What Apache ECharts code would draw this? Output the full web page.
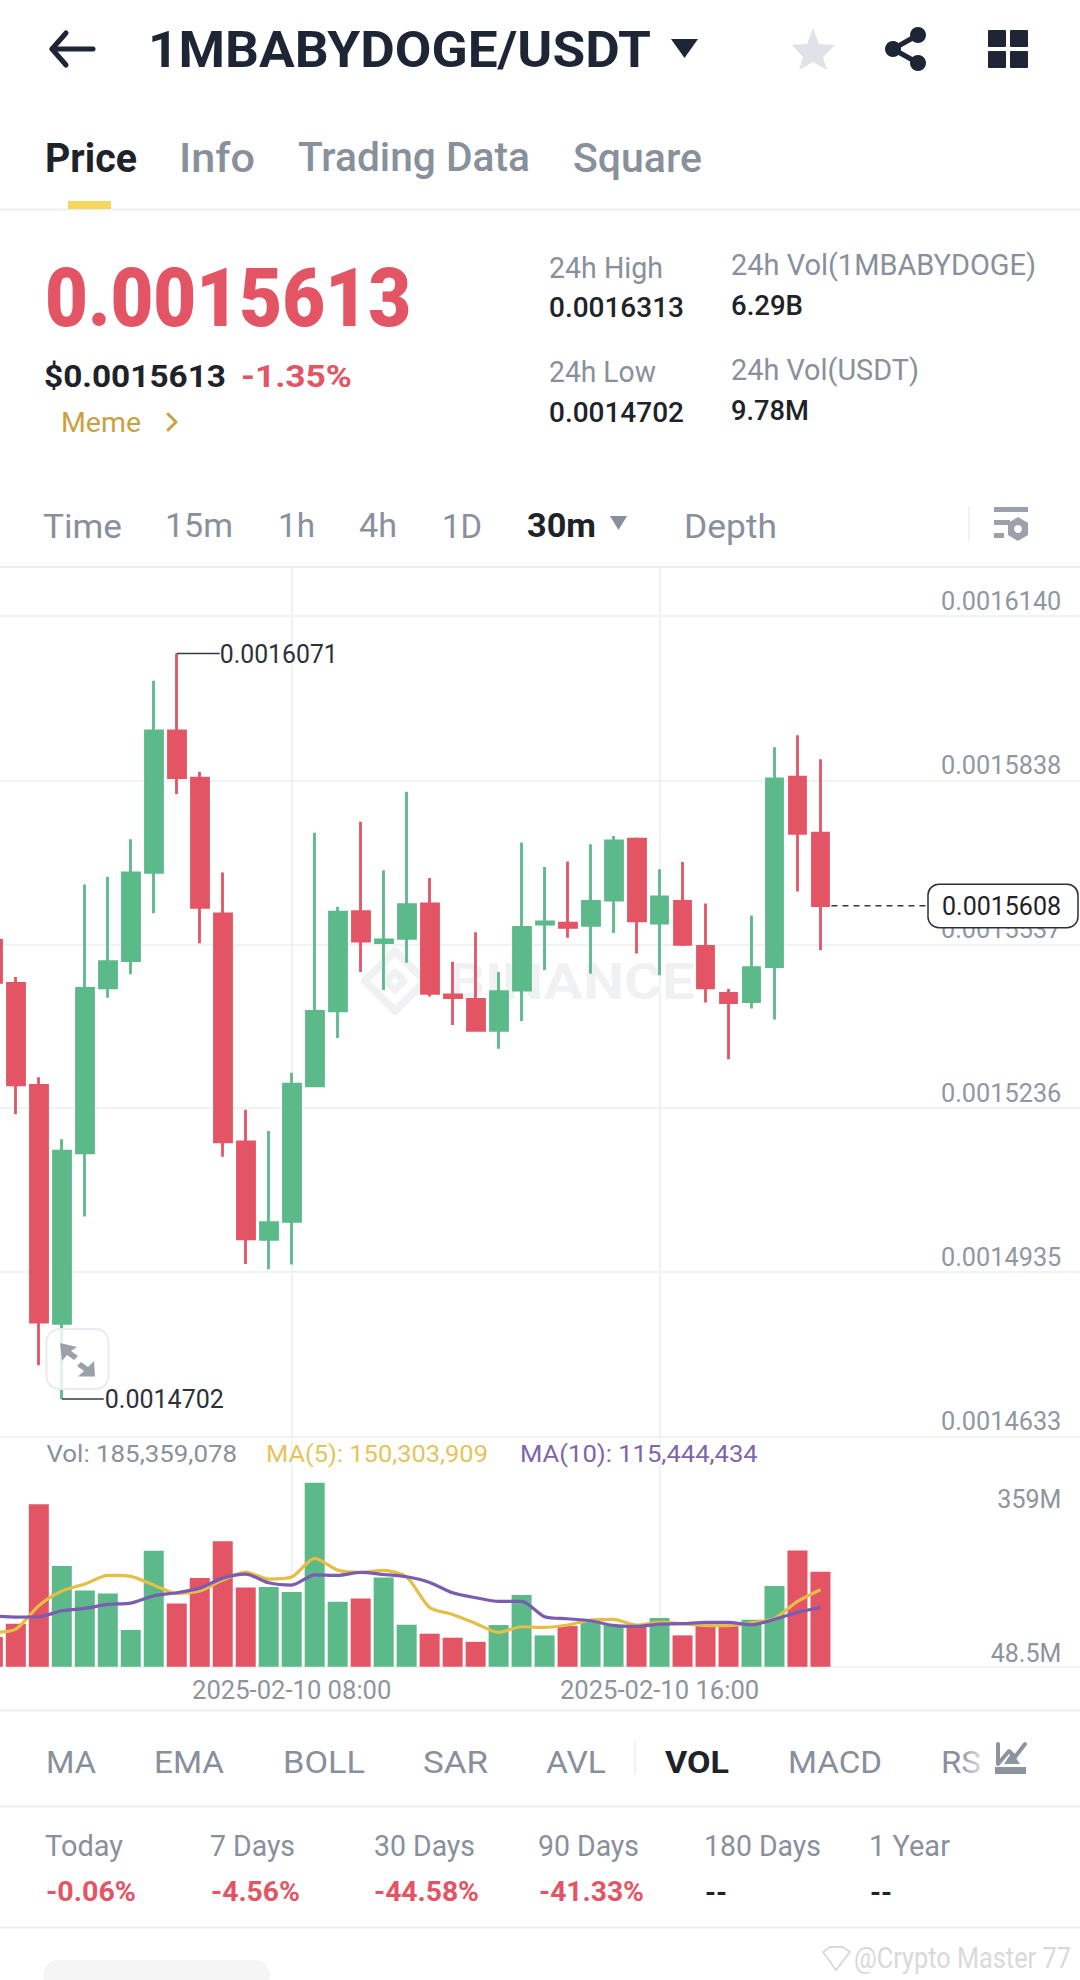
<!DOCTYPE html>
<html>
<head>
<meta charset="utf-8">
<style>html,body{margin:0;padding:0;background:#fff;overflow:hidden}#c{width:1080px;height:1980px}</style>
<script src="https://cdn.jsdelivr.net/npm/echarts@6/dist/echarts.min.js"></script>
</head>
<body>
<div id="c"></div>
<script>
const categories = ['2025-02-10 01:30','2025-02-10 02:00','2025-02-10 02:30','2025-02-10 03:00','2025-02-10 03:30','2025-02-10 04:00','2025-02-10 04:30','2025-02-10 05:00','2025-02-10 05:30','2025-02-10 06:00','2025-02-10 06:30','2025-02-10 07:00','2025-02-10 07:30','2025-02-10 08:00','2025-02-10 08:30','2025-02-10 09:00','2025-02-10 09:30','2025-02-10 10:00','2025-02-10 10:30','2025-02-10 11:00','2025-02-10 11:30','2025-02-10 12:00','2025-02-10 12:30','2025-02-10 13:00','2025-02-10 13:30','2025-02-10 14:00','2025-02-10 14:30','2025-02-10 15:00','2025-02-10 15:30','2025-02-10 16:00','2025-02-10 16:30','2025-02-10 17:00','2025-02-10 17:30','2025-02-10 18:00','2025-02-10 18:30','2025-02-10 19:00','2025-02-10 19:30','2025-02-10 20:00','2025-02-10 20:30','2025-02-10 21:00','2025-02-10 21:30','2025-02-10 22:00','2025-02-10 22:30','2025-02-10 23:00','2025-02-10 23:30','2025-02-11 00:00','2025-02-11 00:30','2025-02-11 01:00','2025-02-11 01:30'];
const opens  = [0.0015544,0.0015465,0.0015278,0.0014841,0.0015154,0.0015457,0.0015507,0.0015669,0.0015929,0.0015842,0.0015593,0.0015174,0.0014995,0.0015028,0.0015277,0.0015415,0.0015597,0.0015540,0.0015548,0.0015611,0.0015444,0.0015436,0.0015379,0.0015453,0.0015574,0.0015576,0.0015572,0.0015618,0.0015730,0.0015576,0.0015616,0.0015533,0.0015447,0.0015432,0.0015496,0.0015844,0.0015741];
const closes = [0.0015467,0.0015279,0.0014843,0.0015157,0.0015456,0.0015505,0.0015668,0.0015929,0.0015843,0.0015605,0.0015174,0.0014996,0.0015026,0.0015280,0.0015414,0.0015596,0.0015543,0.0015545,0.0015610,0.0015447,0.0015439,0.0015379,0.0015450,0.0015568,0.0015578,0.0015568,0.0015616,0.0015727,0.0015580,0.0015624,0.0015537,0.0015457,0.0015430,0.0015494,0.0015841,0.0015741,0.0015608];
const lows   = [0.0015467,0.0015225,0.0014764,0.0014702,0.0015037,0.0015439,0.0015482,0.0015594,0.0015813,0.0015539,0.0015147,0.0014950,0.0014940,0.0014949,0.0015277,0.0015365,0.0015486,0.0015453,0.0015503,0.0015441,0.0015389,0.0015379,0.0015345,0.0015396,0.0015490,0.0015549,0.0015483,0.0015558,0.0015520,0.0015480,0.0015534,0.0015430,0.0015326,0.0015419,0.0015399,0.0015634,0.0015526];
const highs  = [0.0015544,0.0015477,0.0015293,0.0015179,0.0015647,0.0015661,0.0015730,0.0016021,0.0016071,0.0015854,0.0015669,0.0015233,0.0015194,0.0015301,0.0015742,0.0015606,0.0015762,0.0015673,0.0015817,0.0015659,0.0015505,0.0015559,0.0015486,0.0015724,0.0015679,0.0015689,0.0015721,0.0015736,0.0015733,0.0015675,0.0015688,0.0015612,0.0015455,0.0015590,0.0015899,0.0015921,0.0015877];
const volumes = [57.9,83.9,317.2,196.3,148.9,143,71.5,226.2,123.5,172.9,245,154.7,155.4,145.6,359,126.8,133.3,174.2,81.9,64.4,56.6,48.5,81.3,139.8,61.1,79.3,87.8,81,79.3,94.9,61.1,81.3,80,91.7,157.3,226.9,185.36];
const ma5Values = [67,73.5,119,147.6,161.2,178.1,176.2,159.3,143,147.6,169,184.6,171,174.9,211.3,188.5,184,187.9,174.9,115.7,102,84.5,67,78,76.7,81.3,91,92.3,81.3,86.5,83.9,80.6,80,85.8,94.3,127.4,150.3];
const ma10Values = [98.8,96.9,97.5,109.2,113.8,121.6,124.2,138.5,144.3,153.4,172.9,180.7,163.8,159.3,179.4,178.1,184,180,175.5,164.5,144.3,134.6,127.4,127.4,97.5,93.6,89.7,80.6,78.7,83.2,83.9,86.5,86.5,81.9,92.3,106,115.44];
const priceTicks = [0.0014633,0.0014935,0.0015236,0.0015537,0.0015838,0.0016140];
const volumeTicks = [48.5,359];
const timeTicks = ['2025-02-10 08:00','2025-02-10 16:00'];
const lastPrice = 0.0015608;

const GREEN='#5cb98a', RED='#e35464', GRID='#eceef0', AXIS='#8d949e', DARK='#1e2329', NAVY='#1e2635', GREY='#88909c';
const YEL='#e6c35c', PUR='#7e66ab';
const FONT='Roboto';

const chart = echarts.init(document.getElementById('c'), null, {renderer:'svg', width:1080, height:1980});

const band=22.99, X0=-7.17, gridW=band*48;
chart.setOption({
  animation:false,
  backgroundColor:'#fff',
  grid:[
    {left:X0, top:567, width:gridW, height:869.5, outerBoundsMode:'none'},
    {left:X0, top:1437, width:gridW, height:229.7, outerBoundsMode:'none'}
  ],
  xAxis:[
    {type:'category',gridIndex:0,data:categories,boundaryGap:false,
     axisLine:{show:false},axisTick:{show:false},axisLabel:{show:false},
     splitLine:{show:true,interval:(i,v)=>timeTicks.includes(v),lineStyle:{color:GRID,width:1.5}}},
    {type:'category',gridIndex:1,data:categories,boundaryGap:false,
     axisLine:{show:true,lineStyle:{color:GRID,width:1.5}},axisTick:{show:false},
     axisLabel:{show:true,interval:(i,v)=>timeTicks.includes(v),margin:10,color:AXIS,fontFamily:FONT,fontSize:25.6,hideOverlap:false},
     splitLine:{show:true,interval:(i,v)=>timeTicks.includes(v),lineStyle:{color:GRID,width:1.5}}}
  ],
  yAxis:[
    {type:'value',gridIndex:0,position:'right',min:0.0014633,max:0.001623,
     axisLine:{show:false},axisTick:{show:false,customValues:priceTicks},
     axisLabel:{inside:true,margin:35,customValues:priceTicks,verticalAlign:'bottom',lineHeight:30,
       formatter:v=>v.toFixed(7),color:'#9097a1',fontFamily:FONT,fontSize:25.3,showMinLabel:true,showMaxLabel:true},
     splitLine:{show:true,lineStyle:{color:GRID,width:1.5}}},
    {type:'value',gridIndex:1,position:'right',min:0,max:448.3,
     axisLine:{show:false},axisTick:{show:false,customValues:volumeTicks},
     axisLabel:{inside:true,margin:35,customValues:volumeTicks,verticalAlign:'top',
       formatter:v=>v===359?'{a|359M}':'{b|48.5M}',
       rich:{a:{padding:[4,0,0,0],color:AXIS,fontFamily:FONT,fontSize:25},b:{padding:[-1,0,0,0],color:AXIS,fontFamily:FONT,fontSize:25}},
       color:AXIS,fontFamily:FONT,fontSize:25},
     splitLine:{show:false}}
  ],
  series:[
    {type:'candlestick',xAxisIndex:0,yAxisIndex:0,barWidth:17.4,z:3,
     data:opens.map((o,i)=>[o,closes[i],lows[i],highs[i]]),
     itemStyle:{color:GREEN,color0:RED,borderColor:GREEN,borderColor0:RED,borderWidth:2.8}},
    {type:'bar',xAxisIndex:1,yAxisIndex:1,barWidth:20,z:2,
     data:volumes.map((v,i)=>({value:v,itemStyle:{color:closes[i]>=opens[i]?GREEN:RED}}))},
    {type:'line',xAxisIndex:1,yAxisIndex:1,data:ma5Values,showSymbol:false,smooth:0.25,z:4,lineStyle:{color:'#e6bd45',width:3.2}},
    {type:'line',xAxisIndex:1,yAxisIndex:1,data:ma10Values,showSymbol:false,smooth:0.25,z:5,lineStyle:{color:'#7a5cb0',width:3.2}}
  ]
});

// text helper: fits a real text element into the reference's measured width
const mctx=document.createElement('canvas').getContext('2d');
function T(text,x,y,size,color,weight,w,extra){
  const font=(weight||'400')+' '+size+'px '+FONT;
  mctx.font=font;
  const m=mctx.measureText(text).width;
  const sx=w?w/m:1;
  return Object.assign({type:'text',x:x,y:y,scaleX:sx,z:50,silent:true,style:{text:text,font:font,fill:color,verticalAlign:'middle',align:'left'}},extra||{});
}
function Ln(x1,y1,x2,y2,c,w,extra){return Object.assign({type:'line',z:40,silent:true,shape:{x1,y1,x2,y2},style:{stroke:c,lineWidth:w||1.5}},extra||{});}
function Pl(pts,c,w,z){return {type:'polyline',z:z||50,silent:true,shape:{points:pts},style:{stroke:c,lineWidth:w,fill:null,lineCap:'round',lineJoin:'round'}};}
function Pg(pts,c,z){return {type:'polygon',z:z||50,silent:true,shape:{points:pts},style:{fill:c}};}
function R(x,y,w,h,c,r,z,extra){return {type:'rect',z:z||50,silent:true,shape:{x,y,width:w,height:h,r:r||0},style:Object.assign({fill:c},extra||{})};}
function C(cx,cy,r,c){return {type:'circle',z:50,silent:true,shape:{cx,cy,r},style:{fill:c}};}

const g=[];
// header
g.push(Pl([[66,33],[52,49],[66,65]],NAVY,5), Pl([[52,49],[93,49]],NAVY,5));
g.push(T('1MBABYDOGE/USDT',148,50,50,NAVY,'700',503));
g.push(Pg([[671,39],[698,39],[684.5,58]],NAVY));
g.push(Pg([[813,28],[819,44],[835,45],[823,57],[827,70],[813,62],[799,70],[803,57],[792,45],[807,44]],'#dfe2e6'));
g.push(Pl([[918,35],[893,49],[918,63]],NAVY,5), C(918,35,8,NAVY),C(893,49,8,NAVY),C(918,63,8,NAVY));
g.push(R(988,30,18,17,NAVY,1),R(1010,30,18,17,NAVY,1),R(988,51,18,17,NAVY,1),R(1010,51,18,17,NAVY,1));
// tabs
g.push(T('Price',45,158,40,DARK,'700',92),T('Info',179,158,40,GREY,'500',76),T('Trading Data',298,158,40,GREY,'500',232),T('Square',573,158,40,GREY,'500',129));
g.push(R(68,201,43,8,'#f3d75f'),Ln(0,209.5,1080,209.5,'#eeeff1',2));
// price
g.push(T('0.0015613',45,298,82,RED,'900',366));
g.push(T('$0.0015613',44,376,32,DARK,'700',182),T('-1.35%',241,376,32,RED,'700',111));
g.push(T('Meme',61,423,28,'#c9a13f','400',80),Pl([[168,414],[176,422],[168,430]],'#c9a13f',3));
g.push(T('24h High',549,268,29,GREY,'400',114),T('0.0016313',549,308,27,DARK,'500',135));
g.push(T('24h Vol(1MBABYDOGE)',731,265,29,GREY,'400',305),T('6.29B',731,306,27,DARK,'500',72));
g.push(T('24h Low',549,372,29,GREY,'400',107),T('0.0014702',549,413,27,DARK,'500',135));
g.push(T('24h Vol(USDT)',731,370,29,GREY,'400',188),T('9.78M',731,411,27,DARK,'500',78));
// interval row
[['Time',43,79],['15m',165,68],['1h',278,37],['4h',359,38],['1D',442,40],['Depth',684,93]].forEach(a=>g.push(T(a[0],a[1],526,33,GREY,'400',a[2])));
g.push(T('30m',527,526,33,DARK,'700',69),Pg([[610,516],[627,516],[618.5,530]],GREY));
g.push(Ln(969,506,969,541,'#eceef0',1.5));
g.push(R(994,507,34,5,'#9aa1ab'),R(994,520,16,5,'#9aa1ab'),R(994,533,10,5,'#9aa1ab'));
g.push(Pg([[1018,517],[1028,523],[1028,535],[1018,541],[1008,535],[1008,523]],'#9aa1ab'),C(1018,529,4,'#fff'));
g.push(Ln(0,567,1080,567,'#eeeff1',2));
// faint exchange watermark behind the candles
const WM='#f0f1f2';
g.push(Pl([[395,951],[425,981],[395,1011],[365,981],[395,951]],WM,8,1),Pl([[395,972],[404,981],[395,990],[386,981],[395,972]],WM,7,1));
g.push(T('BINANCE',448,982,50,WM,'700',247,{z:1}));
// volume legend
g.push(T('Vol: 185,359,078',46.5,1454,24,GREY,'400',190.5),T('MA(5): 150,303,909',266,1454,24,YEL,'400',222),T('MA(10): 115,444,434',520,1454,24,PUR,'400',238));
// separators & indicator row
g.push(Ln(0,1710.5,1080,1710.5,'#eeeff1',2));
[['MA',46,50],['EMA',154,70],['BOLL',283,82],['SAR',423,65],['AVL',546,60],['MACD',788,94],['RS',941,40]].forEach(a=>g.push(T(a[0],a[1],1762,32,GREY,'400',a[2])));
g.push(T('VOL',665,1762,32,DARK,'700',64),Ln(635,1740,635,1775,'#eceef0',1.5));
g.push({type:'rect',z:51,silent:true,shape:{x:958,y:1740,width:34,height:40},style:{fill:new echarts.graphic.LinearGradient(0,0,1,0,[{offset:0,color:'rgba(255,255,255,0)'},{offset:1,color:'#fff'}])}});
g.push(Pl([[998,1744],[998,1764],[1009,1751],[1015,1757],[1025,1744]],'#8d949e',4),R(995,1767,31,7,'#8d949e'),Pg([[1004,1764],[1012,1752],[1020,1764]],'#8d949e'));
g.push(Ln(0,1806.5,1080,1806.5,'#eeeff1',2));
// period returns
[['Today',45,78],['7 Days',210,85],['30 Days',374,101],['90 Days',538,101],['180 Days',704,117],['1 Year',869,81]].forEach(a=>g.push(T(a[0],a[1],1846,29,GREY,'400',a[2])));
[['-0.06%',46,90],['-4.56%',211,89],['-44.58%',374,105],['-41.33%',539,105]].forEach(a=>g.push(T(a[0],a[1],1892,28,RED,'700',a[2])));
g.push(T('--',705,1892,28,DARK,'700',22),T('--',870,1892,28,DARK,'700',22));
g.push(Ln(0,1927.5,1080,1927.5,'#eeeff1',2));
g.push(R(43,1960,227,30,'#f5f5f5',16));
g.push(T('@Crypto Master 77',854,1958,30,'#d9d9d9','400',217));
g.push(Pl([[823,1952],[836,1970],[850,1952],[843,1947],[830,1947],[823,1952]],'#d9d9d9',2));

// expand button
g.push(R(46.5,1329,62,60,'rgba(255,255,255,0.82)',13,30,{stroke:'#e9ebee',lineWidth:2}));
g.push(Pg([[60,1343],[77,1347],[71,1351],[78,1356],[74,1360],[67,1355],[62,1361]],'#9aa1ab',31));
g.push(Pg([[95,1376.5],[78,1376.5],[84,1371],[77,1366],[81,1362],[88,1367],[94,1361]],'#9aa1ab',31));

// callouts placed through the chart's own scales
const px=(i,v)=>chart.convertToPixel({xAxisIndex:0,yAxisIndex:0},[i,v]);
const hi=highs.indexOf(Math.max.apply(null,highs)), lo=lows.indexOf(Math.min.apply(null,lows));
const hp=px(hi,highs[hi]), lp=px(lo,lows[lo]);
g.push(Ln(hp[0],hp[1],hp[0]+43,hp[1],'#333a42',1.5),T(highs[hi].toFixed(7),hp[0]+43,hp[1]+1,25,'#2b3139','400',118));
g.push(Ln(lp[0],lp[1],lp[0]+42,lp[1],'#333a42',1.5),T(lows[lo].toFixed(7),lp[0]+43,lp[1]+1,25,'#2b3139','400',119));
const lpI=closes.length-1, lpx=px(lpI,lastPrice);
g.push(Ln(lpx[0]+11,lpx[1],928,lpx[1],'#333a42',1.5,{style:{stroke:'#333a42',lineWidth:1.5,lineDash:[6,5]}}));
g.push(R(928,lpx[1]-21.5,150,43.5,'#fff',11,45,{stroke:'#2b3139',lineWidth:1.5}));
g.push(T(lastPrice.toFixed(7),942,lpx[1]+1,25,'#1e2329','400',119));

chart.setOption({graphic:{elements:g}});
</script>
</body>
</html>
